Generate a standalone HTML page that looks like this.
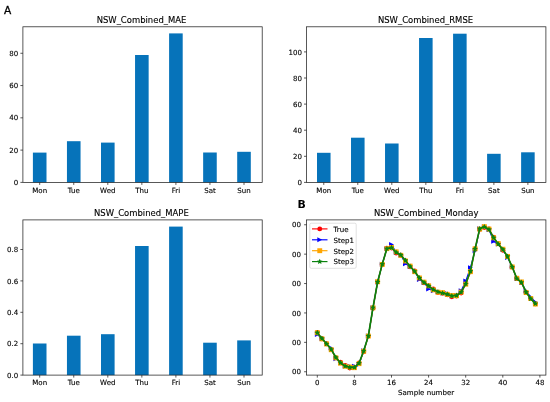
<!DOCTYPE html>
<html><head><meta charset="utf-8"><title>NSW Combined</title>
<style>html,body{margin:0;padding:0;background:#fff;overflow:hidden}svg{display:block}text{font-family:"DejaVu Sans","Liberation Sans",sans-serif;fill:#000;stroke:#000;stroke-width:0.12px}</style>
</head><body>
<svg width="550" height="402" viewBox="0 0 550 402">
<defs><clipPath id="c4"><rect x="306.4" y="219.7" width="239.6" height="155.3"/></clipPath></defs>
<rect width="550" height="402" fill="#fff"/>
<rect x="32.90" y="152.60" width="13.6" height="29.80" fill="#0673ba"/>
<line x1="39.70" y1="182.4" x2="39.70" y2="184.9" stroke="#222" stroke-width="0.75"/>
<text x="39.70" y="192.5" font-size="7.05" text-anchor="middle">Mon</text>
<rect x="66.95" y="141.20" width="13.6" height="41.20" fill="#0673ba"/>
<line x1="73.75" y1="182.4" x2="73.75" y2="184.9" stroke="#222" stroke-width="0.75"/>
<text x="73.75" y="192.5" font-size="7.05" text-anchor="middle">Tue</text>
<rect x="101.00" y="142.60" width="13.6" height="39.80" fill="#0673ba"/>
<line x1="107.80" y1="182.4" x2="107.80" y2="184.9" stroke="#222" stroke-width="0.75"/>
<text x="107.80" y="192.5" font-size="7.05" text-anchor="middle">Wed</text>
<rect x="135.05" y="55.00" width="13.6" height="127.40" fill="#0673ba"/>
<line x1="141.85" y1="182.4" x2="141.85" y2="184.9" stroke="#222" stroke-width="0.75"/>
<text x="141.85" y="192.5" font-size="7.05" text-anchor="middle">Thu</text>
<rect x="169.10" y="33.40" width="13.6" height="149.00" fill="#0673ba"/>
<line x1="175.90" y1="182.4" x2="175.90" y2="184.9" stroke="#222" stroke-width="0.75"/>
<text x="175.90" y="192.5" font-size="7.05" text-anchor="middle">Fri</text>
<rect x="203.15" y="152.50" width="13.6" height="29.90" fill="#0673ba"/>
<line x1="209.95" y1="182.4" x2="209.95" y2="184.9" stroke="#222" stroke-width="0.75"/>
<text x="209.95" y="192.5" font-size="7.05" text-anchor="middle">Sat</text>
<rect x="237.20" y="151.80" width="13.6" height="30.60" fill="#0673ba"/>
<line x1="244.00" y1="182.4" x2="244.00" y2="184.9" stroke="#222" stroke-width="0.75"/>
<text x="244.00" y="192.5" font-size="7.05" text-anchor="middle">Sun</text>
<line x1="20.4" y1="182.40" x2="22.9" y2="182.40" stroke="#222" stroke-width="0.75"/>
<text x="18.30" y="185.00" font-size="7.05" text-anchor="end">0</text>
<line x1="20.4" y1="150.12" x2="22.9" y2="150.12" stroke="#222" stroke-width="0.75"/>
<text x="18.30" y="152.72" font-size="7.05" text-anchor="end">20</text>
<line x1="20.4" y1="117.84" x2="22.9" y2="117.84" stroke="#222" stroke-width="0.75"/>
<text x="18.30" y="120.44" font-size="7.05" text-anchor="end">40</text>
<line x1="20.4" y1="85.56" x2="22.9" y2="85.56" stroke="#222" stroke-width="0.75"/>
<text x="18.30" y="88.16" font-size="7.05" text-anchor="end">60</text>
<line x1="20.4" y1="53.28" x2="22.9" y2="53.28" stroke="#222" stroke-width="0.75"/>
<text x="18.30" y="55.88" font-size="7.05" text-anchor="end">80</text>
<rect x="22.9" y="26.8" width="239.30" height="155.60" fill="none" stroke="#222" stroke-width="0.75"/>
<text x="141.5" y="23.1" font-size="8.45" text-anchor="middle">NSW_Combined_MAE</text>
<rect x="317.00" y="152.80" width="13.55" height="29.60" fill="#0673ba"/>
<line x1="323.77" y1="182.4" x2="323.77" y2="184.9" stroke="#222" stroke-width="0.75"/>
<text x="323.77" y="192.5" font-size="7.05" text-anchor="middle">Mon</text>
<rect x="351.02" y="137.70" width="13.55" height="44.70" fill="#0673ba"/>
<line x1="357.79" y1="182.4" x2="357.79" y2="184.9" stroke="#222" stroke-width="0.75"/>
<text x="357.79" y="192.5" font-size="7.05" text-anchor="middle">Tue</text>
<rect x="385.04" y="143.50" width="13.55" height="38.90" fill="#0673ba"/>
<line x1="391.81" y1="182.4" x2="391.81" y2="184.9" stroke="#222" stroke-width="0.75"/>
<text x="391.81" y="192.5" font-size="7.05" text-anchor="middle">Wed</text>
<rect x="419.06" y="38.00" width="13.55" height="144.40" fill="#0673ba"/>
<line x1="425.83" y1="182.4" x2="425.83" y2="184.9" stroke="#222" stroke-width="0.75"/>
<text x="425.83" y="192.5" font-size="7.05" text-anchor="middle">Thu</text>
<rect x="453.08" y="33.70" width="13.55" height="148.70" fill="#0673ba"/>
<line x1="459.86" y1="182.4" x2="459.86" y2="184.9" stroke="#222" stroke-width="0.75"/>
<text x="459.86" y="192.5" font-size="7.05" text-anchor="middle">Fri</text>
<rect x="487.10" y="153.80" width="13.55" height="28.60" fill="#0673ba"/>
<line x1="493.88" y1="182.4" x2="493.88" y2="184.9" stroke="#222" stroke-width="0.75"/>
<text x="493.88" y="192.5" font-size="7.05" text-anchor="middle">Sat</text>
<rect x="521.12" y="152.30" width="13.55" height="30.10" fill="#0673ba"/>
<line x1="527.89" y1="182.4" x2="527.89" y2="184.9" stroke="#222" stroke-width="0.75"/>
<text x="527.89" y="192.5" font-size="7.05" text-anchor="middle">Sun</text>
<line x1="304.0" y1="182.40" x2="306.5" y2="182.40" stroke="#222" stroke-width="0.75"/>
<text x="301.90" y="185.00" font-size="7.05" text-anchor="end">0</text>
<line x1="304.0" y1="156.30" x2="306.5" y2="156.30" stroke="#222" stroke-width="0.75"/>
<text x="301.90" y="158.90" font-size="7.05" text-anchor="end">20</text>
<line x1="304.0" y1="130.20" x2="306.5" y2="130.20" stroke="#222" stroke-width="0.75"/>
<text x="301.90" y="132.80" font-size="7.05" text-anchor="end">40</text>
<line x1="304.0" y1="104.10" x2="306.5" y2="104.10" stroke="#222" stroke-width="0.75"/>
<text x="301.90" y="106.70" font-size="7.05" text-anchor="end">60</text>
<line x1="304.0" y1="78.00" x2="306.5" y2="78.00" stroke="#222" stroke-width="0.75"/>
<text x="301.90" y="80.60" font-size="7.05" text-anchor="end">80</text>
<line x1="304.0" y1="51.90" x2="306.5" y2="51.90" stroke="#222" stroke-width="0.75"/>
<text x="301.90" y="54.50" font-size="7.05" text-anchor="end">100</text>
<rect x="306.5" y="26.8" width="239.40" height="155.60" fill="none" stroke="#222" stroke-width="0.75"/>
<text x="425.5" y="23.1" font-size="8.45" text-anchor="middle">NSW_Combined_RMSE</text>
<rect x="32.90" y="343.50" width="13.6" height="31.60" fill="#0673ba"/>
<line x1="39.70" y1="375.1" x2="39.70" y2="377.6" stroke="#222" stroke-width="0.75"/>
<text x="39.70" y="385.2" font-size="7.05" text-anchor="middle">Mon</text>
<rect x="66.95" y="335.70" width="13.6" height="39.40" fill="#0673ba"/>
<line x1="73.75" y1="375.1" x2="73.75" y2="377.6" stroke="#222" stroke-width="0.75"/>
<text x="73.75" y="385.2" font-size="7.05" text-anchor="middle">Tue</text>
<rect x="101.00" y="334.20" width="13.6" height="40.90" fill="#0673ba"/>
<line x1="107.80" y1="375.1" x2="107.80" y2="377.6" stroke="#222" stroke-width="0.75"/>
<text x="107.80" y="385.2" font-size="7.05" text-anchor="middle">Wed</text>
<rect x="135.05" y="246.00" width="13.6" height="129.10" fill="#0673ba"/>
<line x1="141.85" y1="375.1" x2="141.85" y2="377.6" stroke="#222" stroke-width="0.75"/>
<text x="141.85" y="385.2" font-size="7.05" text-anchor="middle">Thu</text>
<rect x="169.10" y="226.60" width="13.6" height="148.50" fill="#0673ba"/>
<line x1="175.90" y1="375.1" x2="175.90" y2="377.6" stroke="#222" stroke-width="0.75"/>
<text x="175.90" y="385.2" font-size="7.05" text-anchor="middle">Fri</text>
<rect x="203.15" y="342.70" width="13.6" height="32.40" fill="#0673ba"/>
<line x1="209.95" y1="375.1" x2="209.95" y2="377.6" stroke="#222" stroke-width="0.75"/>
<text x="209.95" y="385.2" font-size="7.05" text-anchor="middle">Sat</text>
<rect x="237.20" y="340.40" width="13.6" height="34.70" fill="#0673ba"/>
<line x1="244.00" y1="375.1" x2="244.00" y2="377.6" stroke="#222" stroke-width="0.75"/>
<text x="244.00" y="385.2" font-size="7.05" text-anchor="middle">Sun</text>
<line x1="20.4" y1="375.10" x2="22.9" y2="375.10" stroke="#222" stroke-width="0.75"/>
<text x="18.30" y="377.70" font-size="7.05" text-anchor="end">0.0</text>
<line x1="20.4" y1="343.70" x2="22.9" y2="343.70" stroke="#222" stroke-width="0.75"/>
<text x="18.30" y="346.30" font-size="7.05" text-anchor="end">0.2</text>
<line x1="20.4" y1="312.30" x2="22.9" y2="312.30" stroke="#222" stroke-width="0.75"/>
<text x="18.30" y="314.90" font-size="7.05" text-anchor="end">0.4</text>
<line x1="20.4" y1="280.90" x2="22.9" y2="280.90" stroke="#222" stroke-width="0.75"/>
<text x="18.30" y="283.50" font-size="7.05" text-anchor="end">0.6</text>
<line x1="20.4" y1="249.50" x2="22.9" y2="249.50" stroke="#222" stroke-width="0.75"/>
<text x="18.30" y="252.10" font-size="7.05" text-anchor="end">0.8</text>
<rect x="22.9" y="219.9" width="239.30" height="155.20" fill="none" stroke="#222" stroke-width="0.75"/>
<text x="141.4" y="216.2" font-size="8.45" text-anchor="middle">NSW_Combined_MAPE</text>
<g clip-path="url(#c4)">
<polyline points="317.30,332.46 321.94,338.72 326.58,343.75 331.22,349.61 335.86,357.84 340.50,362.20 345.14,365.52 349.78,367.96 354.42,367.09 359.06,362.95 363.70,351.69 368.34,336.11 372.98,308.25 377.62,282.11 382.26,264.46 386.90,248.23 391.54,248.05 396.18,253.00 400.82,255.18 405.46,261.01 410.10,266.91 414.74,270.90 419.38,278.54 424.02,282.79 428.66,285.85 433.30,289.05 437.94,292.50 442.58,293.21 447.22,294.68 451.86,296.72 456.50,295.97 461.14,292.98 465.78,283.79 470.42,271.80 475.06,248.87 479.70,229.40 484.34,227.52 488.98,229.05 493.62,237.30 498.26,243.83 502.90,250.35 507.54,256.55 512.18,267.14 516.82,278.45 521.46,282.56 526.10,292.18 530.74,298.63 535.38,303.88" fill="none" stroke="#ff0000" stroke-width="1.15" stroke-linejoin="round"/>
<circle cx="317.30" cy="332.46" r="2.45" fill="#ff0000"/>
<circle cx="321.94" cy="338.72" r="2.45" fill="#ff0000"/>
<circle cx="326.58" cy="343.75" r="2.45" fill="#ff0000"/>
<circle cx="331.22" cy="349.61" r="2.45" fill="#ff0000"/>
<circle cx="335.86" cy="357.84" r="2.45" fill="#ff0000"/>
<circle cx="340.50" cy="362.20" r="2.45" fill="#ff0000"/>
<circle cx="345.14" cy="365.52" r="2.45" fill="#ff0000"/>
<circle cx="349.78" cy="367.96" r="2.45" fill="#ff0000"/>
<circle cx="354.42" cy="367.09" r="2.45" fill="#ff0000"/>
<circle cx="359.06" cy="362.95" r="2.45" fill="#ff0000"/>
<circle cx="363.70" cy="351.69" r="2.45" fill="#ff0000"/>
<circle cx="368.34" cy="336.11" r="2.45" fill="#ff0000"/>
<circle cx="372.98" cy="308.25" r="2.45" fill="#ff0000"/>
<circle cx="377.62" cy="282.11" r="2.45" fill="#ff0000"/>
<circle cx="382.26" cy="264.46" r="2.45" fill="#ff0000"/>
<circle cx="386.90" cy="248.23" r="2.45" fill="#ff0000"/>
<circle cx="391.54" cy="248.05" r="2.45" fill="#ff0000"/>
<circle cx="396.18" cy="253.00" r="2.45" fill="#ff0000"/>
<circle cx="400.82" cy="255.18" r="2.45" fill="#ff0000"/>
<circle cx="405.46" cy="261.01" r="2.45" fill="#ff0000"/>
<circle cx="410.10" cy="266.91" r="2.45" fill="#ff0000"/>
<circle cx="414.74" cy="270.90" r="2.45" fill="#ff0000"/>
<circle cx="419.38" cy="278.54" r="2.45" fill="#ff0000"/>
<circle cx="424.02" cy="282.79" r="2.45" fill="#ff0000"/>
<circle cx="428.66" cy="285.85" r="2.45" fill="#ff0000"/>
<circle cx="433.30" cy="289.05" r="2.45" fill="#ff0000"/>
<circle cx="437.94" cy="292.50" r="2.45" fill="#ff0000"/>
<circle cx="442.58" cy="293.21" r="2.45" fill="#ff0000"/>
<circle cx="447.22" cy="294.68" r="2.45" fill="#ff0000"/>
<circle cx="451.86" cy="296.72" r="2.45" fill="#ff0000"/>
<circle cx="456.50" cy="295.97" r="2.45" fill="#ff0000"/>
<circle cx="461.14" cy="292.98" r="2.45" fill="#ff0000"/>
<circle cx="465.78" cy="283.79" r="2.45" fill="#ff0000"/>
<circle cx="470.42" cy="271.80" r="2.45" fill="#ff0000"/>
<circle cx="475.06" cy="248.87" r="2.45" fill="#ff0000"/>
<circle cx="479.70" cy="229.40" r="2.45" fill="#ff0000"/>
<circle cx="484.34" cy="227.52" r="2.45" fill="#ff0000"/>
<circle cx="488.98" cy="229.05" r="2.45" fill="#ff0000"/>
<circle cx="493.62" cy="237.30" r="2.45" fill="#ff0000"/>
<circle cx="498.26" cy="243.83" r="2.45" fill="#ff0000"/>
<circle cx="502.90" cy="250.35" r="2.45" fill="#ff0000"/>
<circle cx="507.54" cy="256.55" r="2.45" fill="#ff0000"/>
<circle cx="512.18" cy="267.14" r="2.45" fill="#ff0000"/>
<circle cx="516.82" cy="278.45" r="2.45" fill="#ff0000"/>
<circle cx="521.46" cy="282.56" r="2.45" fill="#ff0000"/>
<circle cx="526.10" cy="292.18" r="2.45" fill="#ff0000"/>
<circle cx="530.74" cy="298.63" r="2.45" fill="#ff0000"/>
<circle cx="535.38" cy="303.88" r="2.45" fill="#ff0000"/>
<polyline points="317.30,334.50 321.94,338.50 326.58,343.80 331.22,348.10 335.86,358.70 340.50,362.70 345.14,366.10 349.78,366.30 354.42,366.10 359.06,364.50 363.70,350.80 368.34,336.00 372.98,307.60 377.62,282.00 382.26,264.10 386.90,248.60 391.54,244.50 396.18,252.30 400.82,255.00 405.46,263.70 410.10,266.50 414.74,271.40 419.38,279.50 424.02,282.50 428.66,289.00 433.30,290.80 437.94,291.80 442.58,293.10 447.22,293.40 451.86,296.00 456.50,295.50 461.14,290.70 465.78,281.00 470.42,267.60 475.06,250.80 479.70,228.60 484.34,226.80 488.98,229.50 493.62,241.40 498.26,244.10 502.90,249.50 507.54,257.50 512.18,266.80 516.82,278.60 521.46,282.40 526.10,291.20 530.74,296.90 535.38,302.10" fill="none" stroke="#0000ff" stroke-width="1.15" stroke-linejoin="round"/>
<path d="M314.85 332.05L319.75 334.50L314.85 336.95Z" fill="#0000ff"/>
<path d="M319.49 336.05L324.39 338.50L319.49 340.95Z" fill="#0000ff"/>
<path d="M324.13 341.35L329.03 343.80L324.13 346.25Z" fill="#0000ff"/>
<path d="M328.77 345.65L333.67 348.10L328.77 350.55Z" fill="#0000ff"/>
<path d="M333.41 356.25L338.31 358.70L333.41 361.15Z" fill="#0000ff"/>
<path d="M338.05 360.25L342.95 362.70L338.05 365.15Z" fill="#0000ff"/>
<path d="M342.69 363.65L347.59 366.10L342.69 368.55Z" fill="#0000ff"/>
<path d="M347.33 363.85L352.23 366.30L347.33 368.75Z" fill="#0000ff"/>
<path d="M351.97 363.65L356.87 366.10L351.97 368.55Z" fill="#0000ff"/>
<path d="M356.61 362.05L361.51 364.50L356.61 366.95Z" fill="#0000ff"/>
<path d="M361.25 348.35L366.15 350.80L361.25 353.25Z" fill="#0000ff"/>
<path d="M365.89 333.55L370.79 336.00L365.89 338.45Z" fill="#0000ff"/>
<path d="M370.53 305.15L375.43 307.60L370.53 310.05Z" fill="#0000ff"/>
<path d="M375.17 279.55L380.07 282.00L375.17 284.45Z" fill="#0000ff"/>
<path d="M379.81 261.65L384.71 264.10L379.81 266.55Z" fill="#0000ff"/>
<path d="M384.45 246.15L389.35 248.60L384.45 251.05Z" fill="#0000ff"/>
<path d="M389.09 242.05L393.99 244.50L389.09 246.95Z" fill="#0000ff"/>
<path d="M393.73 249.85L398.63 252.30L393.73 254.75Z" fill="#0000ff"/>
<path d="M398.37 252.55L403.27 255.00L398.37 257.45Z" fill="#0000ff"/>
<path d="M403.01 261.25L407.91 263.70L403.01 266.15Z" fill="#0000ff"/>
<path d="M407.65 264.05L412.55 266.50L407.65 268.95Z" fill="#0000ff"/>
<path d="M412.29 268.95L417.19 271.40L412.29 273.85Z" fill="#0000ff"/>
<path d="M416.93 277.05L421.83 279.50L416.93 281.95Z" fill="#0000ff"/>
<path d="M421.57 280.05L426.47 282.50L421.57 284.95Z" fill="#0000ff"/>
<path d="M426.21 286.55L431.11 289.00L426.21 291.45Z" fill="#0000ff"/>
<path d="M430.85 288.35L435.75 290.80L430.85 293.25Z" fill="#0000ff"/>
<path d="M435.49 289.35L440.39 291.80L435.49 294.25Z" fill="#0000ff"/>
<path d="M440.13 290.65L445.03 293.10L440.13 295.55Z" fill="#0000ff"/>
<path d="M444.77 290.95L449.67 293.40L444.77 295.85Z" fill="#0000ff"/>
<path d="M449.41 293.55L454.31 296.00L449.41 298.45Z" fill="#0000ff"/>
<path d="M454.05 293.05L458.95 295.50L454.05 297.95Z" fill="#0000ff"/>
<path d="M458.69 288.25L463.59 290.70L458.69 293.15Z" fill="#0000ff"/>
<path d="M463.33 278.55L468.23 281.00L463.33 283.45Z" fill="#0000ff"/>
<path d="M467.97 265.15L472.87 267.60L467.97 270.05Z" fill="#0000ff"/>
<path d="M472.61 248.35L477.51 250.80L472.61 253.25Z" fill="#0000ff"/>
<path d="M477.25 226.15L482.15 228.60L477.25 231.05Z" fill="#0000ff"/>
<path d="M481.89 224.35L486.79 226.80L481.89 229.25Z" fill="#0000ff"/>
<path d="M486.53 227.05L491.43 229.50L486.53 231.95Z" fill="#0000ff"/>
<path d="M491.17 238.95L496.07 241.40L491.17 243.85Z" fill="#0000ff"/>
<path d="M495.81 241.65L500.71 244.10L495.81 246.55Z" fill="#0000ff"/>
<path d="M500.45 247.05L505.35 249.50L500.45 251.95Z" fill="#0000ff"/>
<path d="M505.09 255.05L509.99 257.50L505.09 259.95Z" fill="#0000ff"/>
<path d="M509.73 264.35L514.63 266.80L509.73 269.25Z" fill="#0000ff"/>
<path d="M514.37 276.15L519.27 278.60L514.37 281.05Z" fill="#0000ff"/>
<path d="M519.01 279.95L523.91 282.40L519.01 284.85Z" fill="#0000ff"/>
<path d="M523.65 288.75L528.55 291.20L523.65 293.65Z" fill="#0000ff"/>
<path d="M528.29 294.45L533.19 296.90L528.29 299.35Z" fill="#0000ff"/>
<path d="M532.93 299.65L537.83 302.10L532.93 304.55Z" fill="#0000ff"/>
<polyline points="317.30,332.78 321.94,338.90 326.58,343.98 331.22,349.73 335.86,357.86 340.50,363.19 345.14,366.27 349.78,366.96 354.42,367.66 359.06,363.66 363.70,351.20 368.34,336.07 372.98,307.81 377.62,281.71 382.26,264.43 386.90,248.67 391.54,247.48 396.18,251.86 400.82,255.35 405.46,260.99 410.10,266.09 414.74,271.70 419.38,277.91 424.02,282.15 428.66,285.79 433.30,289.87 437.94,292.17 442.58,292.64 447.22,294.31 451.86,295.54 456.50,295.72 461.14,292.03 465.78,284.18 470.42,271.68 475.06,248.81 479.70,229.10 484.34,226.61 488.98,229.08 493.62,237.80 498.26,243.63 502.90,249.20 507.54,256.41 512.18,266.91 516.82,278.26 521.46,281.94 526.10,292.57 530.74,298.51 535.38,304.06" fill="none" stroke="#ffa500" stroke-width="1.15" stroke-linejoin="round"/>
<rect x="314.85" y="330.33" width="4.9" height="4.9" fill="#ffa500"/>
<rect x="319.49" y="336.45" width="4.9" height="4.9" fill="#ffa500"/>
<rect x="324.13" y="341.53" width="4.9" height="4.9" fill="#ffa500"/>
<rect x="328.77" y="347.28" width="4.9" height="4.9" fill="#ffa500"/>
<rect x="333.41" y="355.41" width="4.9" height="4.9" fill="#ffa500"/>
<rect x="338.05" y="360.74" width="4.9" height="4.9" fill="#ffa500"/>
<rect x="342.69" y="363.82" width="4.9" height="4.9" fill="#ffa500"/>
<rect x="347.33" y="364.51" width="4.9" height="4.9" fill="#ffa500"/>
<rect x="351.97" y="365.21" width="4.9" height="4.9" fill="#ffa500"/>
<rect x="356.61" y="361.21" width="4.9" height="4.9" fill="#ffa500"/>
<rect x="361.25" y="348.75" width="4.9" height="4.9" fill="#ffa500"/>
<rect x="365.89" y="333.62" width="4.9" height="4.9" fill="#ffa500"/>
<rect x="370.53" y="305.36" width="4.9" height="4.9" fill="#ffa500"/>
<rect x="375.17" y="279.26" width="4.9" height="4.9" fill="#ffa500"/>
<rect x="379.81" y="261.98" width="4.9" height="4.9" fill="#ffa500"/>
<rect x="384.45" y="246.22" width="4.9" height="4.9" fill="#ffa500"/>
<rect x="389.09" y="245.03" width="4.9" height="4.9" fill="#ffa500"/>
<rect x="393.73" y="249.41" width="4.9" height="4.9" fill="#ffa500"/>
<rect x="398.37" y="252.90" width="4.9" height="4.9" fill="#ffa500"/>
<rect x="403.01" y="258.54" width="4.9" height="4.9" fill="#ffa500"/>
<rect x="407.65" y="263.64" width="4.9" height="4.9" fill="#ffa500"/>
<rect x="412.29" y="269.25" width="4.9" height="4.9" fill="#ffa500"/>
<rect x="416.93" y="275.46" width="4.9" height="4.9" fill="#ffa500"/>
<rect x="421.57" y="279.70" width="4.9" height="4.9" fill="#ffa500"/>
<rect x="426.21" y="283.34" width="4.9" height="4.9" fill="#ffa500"/>
<rect x="430.85" y="287.42" width="4.9" height="4.9" fill="#ffa500"/>
<rect x="435.49" y="289.72" width="4.9" height="4.9" fill="#ffa500"/>
<rect x="440.13" y="290.19" width="4.9" height="4.9" fill="#ffa500"/>
<rect x="444.77" y="291.86" width="4.9" height="4.9" fill="#ffa500"/>
<rect x="449.41" y="293.09" width="4.9" height="4.9" fill="#ffa500"/>
<rect x="454.05" y="293.27" width="4.9" height="4.9" fill="#ffa500"/>
<rect x="458.69" y="289.58" width="4.9" height="4.9" fill="#ffa500"/>
<rect x="463.33" y="281.73" width="4.9" height="4.9" fill="#ffa500"/>
<rect x="467.97" y="269.23" width="4.9" height="4.9" fill="#ffa500"/>
<rect x="472.61" y="246.36" width="4.9" height="4.9" fill="#ffa500"/>
<rect x="477.25" y="226.65" width="4.9" height="4.9" fill="#ffa500"/>
<rect x="481.89" y="224.16" width="4.9" height="4.9" fill="#ffa500"/>
<rect x="486.53" y="226.63" width="4.9" height="4.9" fill="#ffa500"/>
<rect x="491.17" y="235.35" width="4.9" height="4.9" fill="#ffa500"/>
<rect x="495.81" y="241.18" width="4.9" height="4.9" fill="#ffa500"/>
<rect x="500.45" y="246.75" width="4.9" height="4.9" fill="#ffa500"/>
<rect x="505.09" y="253.96" width="4.9" height="4.9" fill="#ffa500"/>
<rect x="509.73" y="264.46" width="4.9" height="4.9" fill="#ffa500"/>
<rect x="514.37" y="275.81" width="4.9" height="4.9" fill="#ffa500"/>
<rect x="519.01" y="279.49" width="4.9" height="4.9" fill="#ffa500"/>
<rect x="523.65" y="290.12" width="4.9" height="4.9" fill="#ffa500"/>
<rect x="528.29" y="296.06" width="4.9" height="4.9" fill="#ffa500"/>
<rect x="532.93" y="301.61" width="4.9" height="4.9" fill="#ffa500"/>
<polyline points="317.30,332.70 321.94,338.50 326.58,343.80 331.22,349.30 335.86,357.50 340.50,362.70 345.14,366.10 349.78,367.30 354.42,367.30 359.06,363.20 363.70,350.80 368.34,336.00 372.98,307.60 377.62,282.00 382.26,264.10 386.90,248.60 391.54,247.70 396.18,252.30 400.82,255.00 405.46,260.50 410.10,266.50 414.74,271.40 419.38,278.00 424.02,282.50 428.66,286.00 433.30,289.60 437.94,291.80 442.58,293.10 447.22,294.20 451.86,296.00 456.50,295.50 461.14,292.20 465.78,283.80 470.42,271.20 475.06,248.80 479.70,228.60 484.34,226.80 488.98,229.50 493.62,237.70 498.26,244.10 502.90,249.50 507.54,256.50 512.18,266.80 516.82,278.60 521.46,282.40 526.10,292.20 530.74,298.70 535.38,303.60" fill="none" stroke="#0a820e" stroke-width="1.7" stroke-linejoin="round"/>
<polygon points="317.30,329.80 318.15,331.53 320.06,331.80 318.68,333.15 319.00,335.05 317.30,334.15 315.60,335.05 315.92,333.15 314.54,331.80 316.45,331.53" fill="#0a820e"/>
<polygon points="321.94,335.60 322.79,337.33 324.70,337.60 323.32,338.95 323.64,340.85 321.94,339.95 320.24,340.85 320.56,338.95 319.18,337.60 321.09,337.33" fill="#0a820e"/>
<polygon points="326.58,340.90 327.43,342.63 329.34,342.90 327.96,344.25 328.28,346.15 326.58,345.25 324.88,346.15 325.20,344.25 323.82,342.90 325.73,342.63" fill="#0a820e"/>
<polygon points="331.22,346.40 332.07,348.13 333.98,348.40 332.60,349.75 332.92,351.65 331.22,350.75 329.52,351.65 329.84,349.75 328.46,348.40 330.37,348.13" fill="#0a820e"/>
<polygon points="335.86,354.60 336.71,356.33 338.62,356.60 337.24,357.95 337.56,359.85 335.86,358.95 334.16,359.85 334.48,357.95 333.10,356.60 335.01,356.33" fill="#0a820e"/>
<polygon points="340.50,359.80 341.35,361.53 343.26,361.80 341.88,363.15 342.20,365.05 340.50,364.15 338.80,365.05 339.12,363.15 337.74,361.80 339.65,361.53" fill="#0a820e"/>
<polygon points="345.14,363.20 345.99,364.93 347.90,365.20 346.52,366.55 346.84,368.45 345.14,367.55 343.44,368.45 343.76,366.55 342.38,365.20 344.29,364.93" fill="#0a820e"/>
<polygon points="349.78,364.40 350.63,366.13 352.54,366.40 351.16,367.75 351.48,369.65 349.78,368.75 348.08,369.65 348.40,367.75 347.02,366.40 348.93,366.13" fill="#0a820e"/>
<polygon points="354.42,364.40 355.27,366.13 357.18,366.40 355.80,367.75 356.12,369.65 354.42,368.75 352.72,369.65 353.04,367.75 351.66,366.40 353.57,366.13" fill="#0a820e"/>
<polygon points="359.06,360.30 359.91,362.03 361.82,362.30 360.44,363.65 360.76,365.55 359.06,364.65 357.36,365.55 357.68,363.65 356.30,362.30 358.21,362.03" fill="#0a820e"/>
<polygon points="363.70,347.90 364.55,349.63 366.46,349.90 365.08,351.25 365.40,353.15 363.70,352.25 362.00,353.15 362.32,351.25 360.94,349.90 362.85,349.63" fill="#0a820e"/>
<polygon points="368.34,333.10 369.19,334.83 371.10,335.10 369.72,336.45 370.04,338.35 368.34,337.45 366.64,338.35 366.96,336.45 365.58,335.10 367.49,334.83" fill="#0a820e"/>
<polygon points="372.98,304.70 373.83,306.43 375.74,306.70 374.36,308.05 374.68,309.95 372.98,309.05 371.28,309.95 371.60,308.05 370.22,306.70 372.13,306.43" fill="#0a820e"/>
<polygon points="377.62,279.10 378.47,280.83 380.38,281.10 379.00,282.45 379.32,284.35 377.62,283.45 375.92,284.35 376.24,282.45 374.86,281.10 376.77,280.83" fill="#0a820e"/>
<polygon points="382.26,261.20 383.11,262.93 385.02,263.20 383.64,264.55 383.96,266.45 382.26,265.55 380.56,266.45 380.88,264.55 379.50,263.20 381.41,262.93" fill="#0a820e"/>
<polygon points="386.90,245.70 387.75,247.43 389.66,247.70 388.28,249.05 388.60,250.95 386.90,250.05 385.20,250.95 385.52,249.05 384.14,247.70 386.05,247.43" fill="#0a820e"/>
<polygon points="391.54,244.80 392.39,246.53 394.30,246.80 392.92,248.15 393.24,250.05 391.54,249.15 389.84,250.05 390.16,248.15 388.78,246.80 390.69,246.53" fill="#0a820e"/>
<polygon points="396.18,249.40 397.03,251.13 398.94,251.40 397.56,252.75 397.88,254.65 396.18,253.75 394.48,254.65 394.80,252.75 393.42,251.40 395.33,251.13" fill="#0a820e"/>
<polygon points="400.82,252.10 401.67,253.83 403.58,254.10 402.20,255.45 402.52,257.35 400.82,256.45 399.12,257.35 399.44,255.45 398.06,254.10 399.97,253.83" fill="#0a820e"/>
<polygon points="405.46,257.60 406.31,259.33 408.22,259.60 406.84,260.95 407.16,262.85 405.46,261.95 403.76,262.85 404.08,260.95 402.70,259.60 404.61,259.33" fill="#0a820e"/>
<polygon points="410.10,263.60 410.95,265.33 412.86,265.60 411.48,266.95 411.80,268.85 410.10,267.95 408.40,268.85 408.72,266.95 407.34,265.60 409.25,265.33" fill="#0a820e"/>
<polygon points="414.74,268.50 415.59,270.23 417.50,270.50 416.12,271.85 416.44,273.75 414.74,272.85 413.04,273.75 413.36,271.85 411.98,270.50 413.89,270.23" fill="#0a820e"/>
<polygon points="419.38,275.10 420.23,276.83 422.14,277.10 420.76,278.45 421.08,280.35 419.38,279.45 417.68,280.35 418.00,278.45 416.62,277.10 418.53,276.83" fill="#0a820e"/>
<polygon points="424.02,279.60 424.87,281.33 426.78,281.60 425.40,282.95 425.72,284.85 424.02,283.95 422.32,284.85 422.64,282.95 421.26,281.60 423.17,281.33" fill="#0a820e"/>
<polygon points="428.66,283.10 429.51,284.83 431.42,285.10 430.04,286.45 430.36,288.35 428.66,287.45 426.96,288.35 427.28,286.45 425.90,285.10 427.81,284.83" fill="#0a820e"/>
<polygon points="433.30,286.70 434.15,288.43 436.06,288.70 434.68,290.05 435.00,291.95 433.30,291.05 431.60,291.95 431.92,290.05 430.54,288.70 432.45,288.43" fill="#0a820e"/>
<polygon points="437.94,288.90 438.79,290.63 440.70,290.90 439.32,292.25 439.64,294.15 437.94,293.25 436.24,294.15 436.56,292.25 435.18,290.90 437.09,290.63" fill="#0a820e"/>
<polygon points="442.58,290.20 443.43,291.93 445.34,292.20 443.96,293.55 444.28,295.45 442.58,294.55 440.88,295.45 441.20,293.55 439.82,292.20 441.73,291.93" fill="#0a820e"/>
<polygon points="447.22,291.30 448.07,293.03 449.98,293.30 448.60,294.65 448.92,296.55 447.22,295.65 445.52,296.55 445.84,294.65 444.46,293.30 446.37,293.03" fill="#0a820e"/>
<polygon points="451.86,293.10 452.71,294.83 454.62,295.10 453.24,296.45 453.56,298.35 451.86,297.45 450.16,298.35 450.48,296.45 449.10,295.10 451.01,294.83" fill="#0a820e"/>
<polygon points="456.50,292.60 457.35,294.33 459.26,294.60 457.88,295.95 458.20,297.85 456.50,296.95 454.80,297.85 455.12,295.95 453.74,294.60 455.65,294.33" fill="#0a820e"/>
<polygon points="461.14,289.30 461.99,291.03 463.90,291.30 462.52,292.65 462.84,294.55 461.14,293.65 459.44,294.55 459.76,292.65 458.38,291.30 460.29,291.03" fill="#0a820e"/>
<polygon points="465.78,280.90 466.63,282.63 468.54,282.90 467.16,284.25 467.48,286.15 465.78,285.25 464.08,286.15 464.40,284.25 463.02,282.90 464.93,282.63" fill="#0a820e"/>
<polygon points="470.42,268.30 471.27,270.03 473.18,270.30 471.80,271.65 472.12,273.55 470.42,272.65 468.72,273.55 469.04,271.65 467.66,270.30 469.57,270.03" fill="#0a820e"/>
<polygon points="475.06,245.90 475.91,247.63 477.82,247.90 476.44,249.25 476.76,251.15 475.06,250.25 473.36,251.15 473.68,249.25 472.30,247.90 474.21,247.63" fill="#0a820e"/>
<polygon points="479.70,225.70 480.55,227.43 482.46,227.70 481.08,229.05 481.40,230.95 479.70,230.05 478.00,230.95 478.32,229.05 476.94,227.70 478.85,227.43" fill="#0a820e"/>
<polygon points="484.34,223.90 485.19,225.63 487.10,225.90 485.72,227.25 486.04,229.15 484.34,228.25 482.64,229.15 482.96,227.25 481.58,225.90 483.49,225.63" fill="#0a820e"/>
<polygon points="488.98,226.60 489.83,228.33 491.74,228.60 490.36,229.95 490.68,231.85 488.98,230.95 487.28,231.85 487.60,229.95 486.22,228.60 488.13,228.33" fill="#0a820e"/>
<polygon points="493.62,234.80 494.47,236.53 496.38,236.80 495.00,238.15 495.32,240.05 493.62,239.15 491.92,240.05 492.24,238.15 490.86,236.80 492.77,236.53" fill="#0a820e"/>
<polygon points="498.26,241.20 499.11,242.93 501.02,243.20 499.64,244.55 499.96,246.45 498.26,245.55 496.56,246.45 496.88,244.55 495.50,243.20 497.41,242.93" fill="#0a820e"/>
<polygon points="502.90,246.60 503.75,248.33 505.66,248.60 504.28,249.95 504.60,251.85 502.90,250.95 501.20,251.85 501.52,249.95 500.14,248.60 502.05,248.33" fill="#0a820e"/>
<polygon points="507.54,253.60 508.39,255.33 510.30,255.60 508.92,256.95 509.24,258.85 507.54,257.95 505.84,258.85 506.16,256.95 504.78,255.60 506.69,255.33" fill="#0a820e"/>
<polygon points="512.18,263.90 513.03,265.63 514.94,265.90 513.56,267.25 513.88,269.15 512.18,268.25 510.48,269.15 510.80,267.25 509.42,265.90 511.33,265.63" fill="#0a820e"/>
<polygon points="516.82,275.70 517.67,277.43 519.58,277.70 518.20,279.05 518.52,280.95 516.82,280.05 515.12,280.95 515.44,279.05 514.06,277.70 515.97,277.43" fill="#0a820e"/>
<polygon points="521.46,279.50 522.31,281.23 524.22,281.50 522.84,282.85 523.16,284.75 521.46,283.85 519.76,284.75 520.08,282.85 518.70,281.50 520.61,281.23" fill="#0a820e"/>
<polygon points="526.10,289.30 526.95,291.03 528.86,291.30 527.48,292.65 527.80,294.55 526.10,293.65 524.40,294.55 524.72,292.65 523.34,291.30 525.25,291.03" fill="#0a820e"/>
<polygon points="530.74,295.80 531.59,297.53 533.50,297.80 532.12,299.15 532.44,301.05 530.74,300.15 529.04,301.05 529.36,299.15 527.98,297.80 529.89,297.53" fill="#0a820e"/>
<polygon points="535.38,300.70 536.23,302.43 538.14,302.70 536.76,304.05 537.08,305.95 535.38,305.05 533.68,305.95 534.00,304.05 532.62,302.70 534.53,302.43" fill="#0a820e"/>
</g>
<line x1="317.30" y1="375.1" x2="317.30" y2="377.6" stroke="#222" stroke-width="0.75"/>
<text x="317.30" y="385.1" font-size="7.05" text-anchor="middle">0</text>
<line x1="354.40" y1="375.1" x2="354.40" y2="377.6" stroke="#222" stroke-width="0.75"/>
<text x="354.40" y="385.1" font-size="7.05" text-anchor="middle">8</text>
<line x1="391.50" y1="375.1" x2="391.50" y2="377.6" stroke="#222" stroke-width="0.75"/>
<text x="391.50" y="385.1" font-size="7.05" text-anchor="middle">16</text>
<line x1="428.60" y1="375.1" x2="428.60" y2="377.6" stroke="#222" stroke-width="0.75"/>
<text x="428.60" y="385.1" font-size="7.05" text-anchor="middle">24</text>
<line x1="465.70" y1="375.1" x2="465.70" y2="377.6" stroke="#222" stroke-width="0.75"/>
<text x="465.70" y="385.1" font-size="7.05" text-anchor="middle">32</text>
<line x1="502.80" y1="375.1" x2="502.80" y2="377.6" stroke="#222" stroke-width="0.75"/>
<text x="502.80" y="385.1" font-size="7.05" text-anchor="middle">40</text>
<line x1="539.90" y1="375.1" x2="539.90" y2="377.6" stroke="#222" stroke-width="0.75"/>
<text x="539.90" y="385.1" font-size="7.05" text-anchor="middle">48</text>
<line x1="304.1" y1="224.75" x2="306.6" y2="224.75" stroke="#222" stroke-width="0.75"/>
<text x="300.90" y="227.45" font-size="7.05" text-anchor="end">00</text>
<line x1="304.1" y1="254.15" x2="306.6" y2="254.15" stroke="#222" stroke-width="0.75"/>
<text x="300.90" y="256.85" font-size="7.05" text-anchor="end">00</text>
<line x1="304.1" y1="283.55" x2="306.6" y2="283.55" stroke="#222" stroke-width="0.75"/>
<text x="300.90" y="286.25" font-size="7.05" text-anchor="end">00</text>
<line x1="304.1" y1="312.95" x2="306.6" y2="312.95" stroke="#222" stroke-width="0.75"/>
<text x="300.90" y="315.65" font-size="7.05" text-anchor="end">00</text>
<line x1="304.1" y1="342.35" x2="306.6" y2="342.35" stroke="#222" stroke-width="0.75"/>
<text x="300.90" y="345.05" font-size="7.05" text-anchor="end">00</text>
<line x1="304.1" y1="371.75" x2="306.6" y2="371.75" stroke="#222" stroke-width="0.75"/>
<text x="300.90" y="374.45" font-size="7.05" text-anchor="end">00</text>
<rect x="306.6" y="219.9" width="239.30" height="155.20" fill="none" stroke="#222" stroke-width="0.75"/>
<text x="426.2" y="216.2" font-size="8.45" text-anchor="middle">NSW_Combined_Monday</text>
<text x="426.1" y="395.2" font-size="7.05" text-anchor="middle">Sample number</text>
<rect x="309.8" y="223.2" width="46.4" height="45.1" rx="1.4" fill="#fff" fill-opacity="0.8" stroke="#ccc" stroke-width="0.6"/>
<line x1="312" y1="228.90" x2="327.5" y2="228.90" stroke="#ff0000" stroke-width="1.15"/>
<circle cx="319.75" cy="228.90" r="2.45" fill="#ff0000"/>
<text x="333.5" y="231.70" font-size="7.05">True</text>
<line x1="312" y1="239.80" x2="327.5" y2="239.80" stroke="#0000ff" stroke-width="1.15"/>
<path d="M317.30 237.35L322.20 239.80L317.30 242.25Z" fill="#0000ff"/>
<text x="333.5" y="242.60" font-size="7.05">Step1</text>
<line x1="312" y1="250.70" x2="327.5" y2="250.70" stroke="#ffa500" stroke-width="1.15"/>
<rect x="317.30" y="248.25" width="4.9" height="4.9" fill="#ffa500"/>
<text x="333.5" y="253.50" font-size="7.05">Step2</text>
<line x1="312" y1="261.60" x2="327.5" y2="261.60" stroke="#0a820e" stroke-width="1.15"/>
<polygon points="319.75,258.70 320.60,260.43 322.51,260.70 321.13,262.05 321.45,263.95 319.75,263.05 318.05,263.95 318.37,262.05 316.99,260.70 318.90,260.43" fill="#0a820e"/>
<text x="333.5" y="264.40" font-size="7.05">Step3</text>
<text x="3.9" y="14.4" font-family="'Liberation Sans',sans-serif" font-size="10.6" style="stroke-width:0.3px">A</text>
<text x="297.6" y="208.3" font-family="'Liberation Sans',sans-serif" font-size="10.9" font-weight="bold" style="stroke-width:0">B</text>
</svg>
</body></html>
